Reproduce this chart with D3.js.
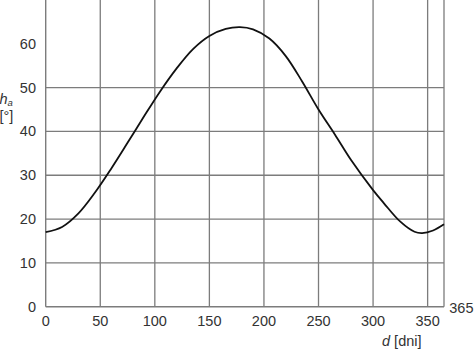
<!DOCTYPE html>
<html>
<head>
<meta charset="utf-8">
<script src="https://cdn.jsdelivr.net/npm/d3@7"></script>
<style>
  body { margin: 0; background: #fff; }
  text { font-family: "Liberation Sans", Arial, sans-serif; fill: #333; }
</style>
</head>
<body>
<div id="chart"></div>
<script>
// day of year and noon sun altitude
var days = [0, 15, 30, 45, 60, 75, 90, 105, 120, 135, 150, 165, 178,
            190, 205, 220, 235, 250, 265, 280, 300, 310, 325, 338, 345, 355, 365];
var altitude = [17.0, 18.2, 21.3, 26.0, 31.5, 37.4, 43.4, 49.2, 54.4, 58.8, 61.8, 63.4, 63.8,
                63.3, 61.2, 57.2, 51.4, 45.0, 39.3, 33.4, 26.6, 23.6, 19.4, 17.1, 16.8, 17.4, 18.8];

var xTicks = [0, 50, 100, 150, 200, 250, 300, 350];
var yTicks = [0, 10, 20, 30, 40, 50, 60];
var yGrid = [10, 20, 30, 40, 50];
var xGrid = [50, 100, 150, 200, 250, 300, 350, 365];

var W = 474, H = 351;
var margin = {top: 0, left: 45.7, right: 30, bottom: 44.3};

var svg = d3.select("#chart")
  .append("svg")
  .attr("width", W)
  .attr("height", H);

var x = d3.scaleLinear()
  .domain([0, 365])
  .range([margin.left, W - margin.right]);

var y = d3.scaleLinear()
  .domain([0, 70])
  .range([H - margin.bottom, margin.top]);

var gridColor = "#7c7c7c";

// vertical grid
svg.selectAll(".vgrid")
  .data(xGrid)
  .enter()
  .append("line")
  .attr("x1", function(d) { return x(d); })
  .attr("x2", function(d) { return x(d); })
  .attr("y1", y(0))
  .attr("y2", y(70))
  .attr("stroke", gridColor)
  .attr("stroke-width", 1.3);

// horizontal grid
svg.selectAll(".hgrid")
  .data(yGrid)
  .enter()
  .append("line")
  .attr("x1", x(0))
  .attr("x2", x(365))
  .attr("y1", function(d) { return y(d); })
  .attr("y2", function(d) { return y(d); })
  .attr("stroke", gridColor)
  .attr("stroke-width", 1.3);

// axes
svg.append("line")
  .attr("x1", x(0)).attr("x2", x(0))
  .attr("y1", y(0)).attr("y2", y(70))
  .attr("stroke", gridColor).attr("stroke-width", 1.4);
svg.append("line")
  .attr("x1", x(0)).attr("x2", x(365))
  .attr("y1", y(0)).attr("y2", y(0))
  .attr("stroke", gridColor).attr("stroke-width", 1.4);

// tick labels
svg.selectAll(".ylab")
  .data(yTicks)
  .enter()
  .append("text")
  .attr("x", 36)
  .attr("y", function(d) { return y(d) + 5; })
  .attr("text-anchor", "end")
  .attr("font-size", 14.5)
  .text(function(d) { return d; });

svg.selectAll(".xlab")
  .data(xTicks)
  .enter()
  .append("text")
  .attr("x", function(d) { return x(d); })
  .attr("y", 325.5)
  .attr("text-anchor", "middle")
  .attr("font-size", 14.5)
  .text(function(d) { return d; });

svg.append("text")
  .attr("x", 473.5)
  .attr("y", 312.5)
  .attr("text-anchor", "end")
  .attr("font-size", 14.5)
  .text("365");

// axis titles
var xt = svg.append("text")
  .attr("x", 382)
  .attr("y", 346)
  .attr("font-size", 14.5);
xt.append("tspan").attr("font-style", "italic").text("d");
xt.append("tspan").text(" [dni]");

var yt = svg.append("text")
  .attr("x", -0.5)
  .attr("y", 104)
  .attr("font-size", 14.5);
yt.append("tspan").attr("font-style", "italic").text("h");
yt.append("tspan").attr("font-style", "italic").attr("font-size", 9.5).attr("dy", 2).text("a");

svg.append("text")
  .attr("x", -0.5)
  .attr("y", 121)
  .attr("font-size", 14.5)
  .text("[°]");

// curve
var line = d3.line()
  .x(function(d, i) { return x(days[i]); })
  .y(function(d) { return y(d); })
  .curve(d3.curveCatmullRom.alpha(0.5));

svg.append("path")
  .datum(altitude)
  .attr("d", line)
  .attr("fill", "none")
  .attr("stroke", "#111")
  .attr("stroke-width", 1.8);
</script>
</body>
</html>
